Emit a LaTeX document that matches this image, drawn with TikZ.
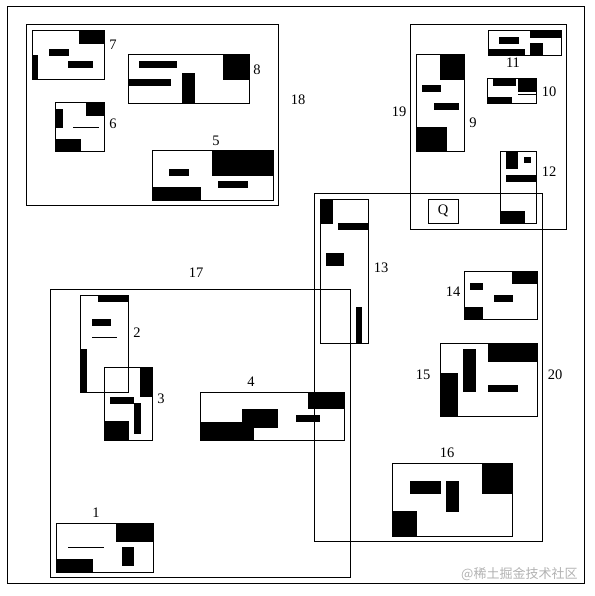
\documentclass[tikz,border=0pt]{standalone}
\usepackage{fontspec}
\setmainfont{Liberation Serif}
\newfontfamily\cjk{Noto Sans CJK SC}
\usepackage{tikz}
\tikzset{
every picture/.style={line width=1pt},
lbl/.style={font=\fontsize{14.5}{14.5}\selectfont, inner sep=0pt},
mark box/.style={draw, fill=none}
}

\begin{document}
\begin{tikzpicture}[x=1pt,y=-1pt]
      \useasboundingbox (0,0) rectangle (594,596);
      % black blocks
      \foreach \a/\b/\c/\d in {79/31/104/44, 49/49/69/56, 68/61/93/68, 32/55/38/80,
          223/55/249/80, 139/61/177/68, 128/79/171/86, 182/73/195/104,
          86/103/104/116, 55/109/63/128, 55/139/81/152,
          212/151/273/176, 169/169/189/176, 218/181/248/188, 152/187/201/200,
          530/31/561/38, 499/37/519/44, 488/49/525/56, 530/43/543/56,
          493/79/516/86, 518/79/536/92, 487/97/512/104,
          440/55/464/80, 422/85/441/92, 434/103/459/110, 416/127/447/152,
          506/152/518/169, 524/157/531/163, 506/175/536/182, 500/211/525/223,
          320/199/333/224, 338/223/368/230, 326/253/344/266, 356/307/362/343,
          512/271/537/284, 470/283/483/290, 494/295/513/302, 464/307/483/319,
          488/343/537/362, 463/349/476/392, 440/373/458/416, 488/385/518/392,
          482/463/512/494, 410/481/441/494, 446/481/459/512, 392/511/417/536,
          98/295/128/302, 92/319/111/326, 80/349/87/392,
          140/367/152/397, 110/397/134/404, 134/403/141/434, 104/421/129/440,
          308/392/344/409, 242/409/278/428, 200/422/254/440, 296/415/320/422,
          116/523/153/542, 122/547/134/566, 56/559/93/572}
        \fill (\a,\b) rectangle (\c,\d);
      % thin lines
      \foreach \a/\b/\c in {73/127/99, 518/94/536, 92/337/117, 68/547/104}
        \draw[line width=0.8pt] (\a,\b) -- (\c,\b);
      % frames
      \foreach \a/\b/\c/\d in {7/7/584/583, 26/25/278/205, 410/25/566/229,
          314/193/542/541, 50/289/350/577,
          32/31/104/80, 128/55/249/104, 55/103/104/152, 152/151/273/200,
          488/31/561/56, 487/79/536/104, 416/55/464/152, 500/152/536/223,
          428/199/458/223, 320/199/368/343, 464/271/537/319, 440/343/537/416,
          392/463/512/536, 80/295/128/392, 104/367/152/440, 200/392/344/440,
          56/523/153/572}
        \draw[mark box] (\a,\b) rectangle (\c,\d);
      % labels
      \node[lbl] (n1) at (96,513) {1};
      \node[lbl] (n2) at (137,333) {2};
      \node[lbl] (n3) at (161,399) {3};
      \node[lbl] (n4) at (251,382) {4};
      \node[lbl] (n5) at (216,141) {5};
      \node[lbl] (n6) at (113,124) {6};
      \node[lbl] (n7) at (113,45) {7};
      \node[lbl] (n8) at (257,70) {8};
      \node[lbl] (n9) at (473,123) {9};
      \node[lbl] (n10) at (549,92) {10};
      \node[lbl] (n11) at (513,63) {11};
      \node[lbl] (n12) at (549,172) {12};
      \node[lbl] (n13) at (381,268) {13};
      \node[lbl] (n14) at (453,292) {14};
      \node[lbl] (n15) at (423,375) {15};
      \node[lbl] (n16) at (447,453) {16};
      \node[lbl] (n17) at (196,273) {17};
      \node[lbl] (n18) at (298,100) {18};
      \node[lbl] (n19) at (399,112) {19};
      \node[lbl] (n20) at (555,375) {20};
      \node[lbl] (nq) at (443,211) {Q};
      \node[inner sep=0pt, anchor=east, text=black!30, font=\cjk\fontsize{13}{13}\selectfont] (wm) at (578,574) {@稀土掘金技术社区};
    \end{tikzpicture}
\end{document}
